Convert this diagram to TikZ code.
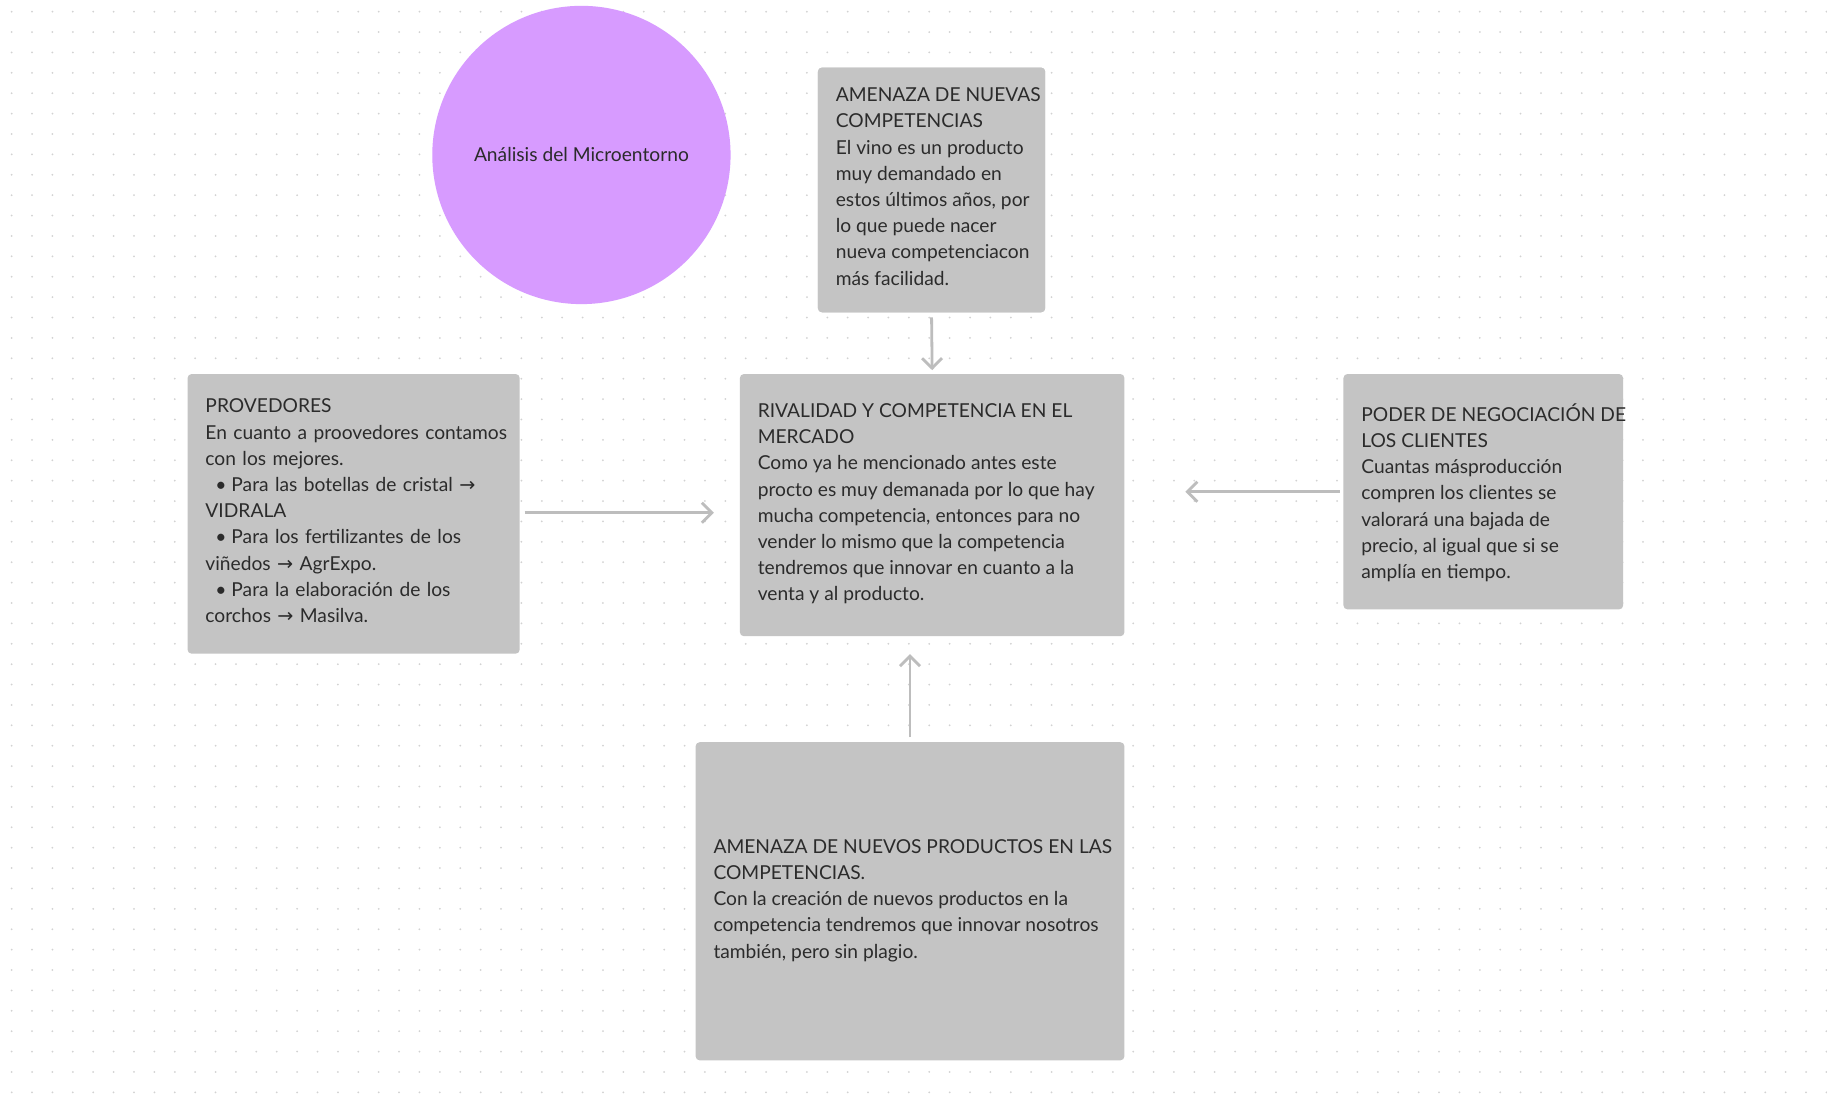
\documentclass[tikz,border=0pt]{standalone}
\usepackage{fontspec}
\setmainfont{Lato}
\newfontfamily\djv{DejaVu Sans}
\usetikzlibrary{arrows.meta}
\definecolor{boxgray}{HTML}{C4C4C4}
\definecolor{circ}{HTML}{D79BFF}
\definecolor{txt}{HTML}{2B2B2B}
\definecolor{arr}{HTML}{BDBDBD}
\newcommand{\ar}{{\djv\char"2192}}
\newcommand{\bul}[1]{\par\hangindent=13pt\hangafter=1\noindent\hspace*{5pt}\makebox[8pt][l]{\textbullet}#1}
\tikzset{
 boxx/.style={fill=boxgray,rounded corners=2pt,draw=none},
 txtn/.style={anchor=north west,inner sep=0pt,align=left,text=txt,font=\fontsize{9.6}{13.1}\selectfont},
 conn/.style={draw=arr,line width=1.4pt,-{Straight Barb[length=5pt,width=10pt]}}
}
\begin{document}
\begin{tikzpicture}[x=0.5825pt,y=-0.5825pt]
\useasboundingbox (0,0) rectangle (1568,940);
\fill[white] (0,0) rectangle (1568,940);
\foreach \i in {0,...,89}{\foreach \j in {0,...,53}{\fill[gray!35] (10+17.5*\i,10+17.5*\j) circle (0.5pt);}}
\fill[circ] (499,133) circle (128);
\node[text=txt,font=\fontsize{9.6}{12}\selectfont] (circ) at (499,133) {Análisis del Microentorno};
% boxes
\path[boxx] (702,58) rectangle (897,268) coordinate (tbse);
\node[boxx,minimum width=195*0.5825pt,minimum height=210*0.5825pt,inner sep=0pt] (top) at (799.5,163) {};
\node[boxx,minimum width=285*0.5825pt,minimum height=240*0.5825pt,inner sep=0pt] (left) at (303.5,441) {};
\node[boxx,minimum width=330*0.5825pt,minimum height=225*0.5825pt,inner sep=0pt] (center) at (800,433.5) {};
\node[boxx,minimum width=240*0.5825pt,minimum height=202*0.5825pt,inner sep=0pt] (right) at (1273,422) {};
\node[boxx,minimum width=368*0.5825pt,minimum height=273*0.5825pt,inner sep=0pt] (bottom) at (781,773.5) {};
% texts
\node[txtn] (t1) at (717,75) {AMENAZA DE NUEVAS\\COMPETENCIAS\\El vino es un producto\\muy demandado en\\estos últimos años, por\\lo que puede nacer\\nueva competenciacon\\más facilidad.};
\node[txtn,text width=260*0.5825pt] (t2) at (176,342) {PROVEDORES\\En cuanto a proovedores contamos\\con los mejores.
\bul{Para las botellas de cristal \ar\\VIDRALA}
\bul{Para los fertilizantes de los\\viñedos \ar{} AgrExpo.}
\bul{Para la elaboración de los\\corchos \ar{} Masilva.}};
\node[txtn] (t3) at (650,346) {RIVALIDAD Y COMPETENCIA EN EL\\MERCADO\\Como ya he mencionado antes este\\procto es muy demanada por lo que hay\\mucha competencia, entonces para no\\vender lo mismo que la competencia\\tendremos que innovar en cuanto a la\\venta y al producto.};
\node[txtn] (t4) at (1168,346) {PODER DE NEGOCIACIÓN DE\\LOS CLIENTES\\Cuantas másproducción\\compren los clientes se\\valorará una bajada de\\precio, al igual que si se\\amplía en tiempo.};
\node[txtn] (t5) at (612,720) {AMENAZA DE NUEVOS PRODUCTOS EN LAS\\COMPETENCIAS.\\Con la creación de nuevos productos en la\\competencia tendremos que innovar nosotros\\también, pero sin plagio.};
% arrows
\draw[conn] ([yshift=-4*0.5825pt]top.south) -- ([yshift=3*0.5825pt]center.north);
\draw[conn] ([xshift=4*0.5825pt]left.east|-0,440) -- ([xshift=-22*0.5825pt]center.west|-0,440);
\draw[conn] ([xshift=-3*0.5825pt]right.west) -- ([xshift=52*0.5825pt]center.east|-right.west);
\draw[conn] ([yshift=4*0.5825pt]bottom.north) -- ([yshift=-15*0.5825pt]bottom.north|-center.south);
\end{tikzpicture}
\end{document}
